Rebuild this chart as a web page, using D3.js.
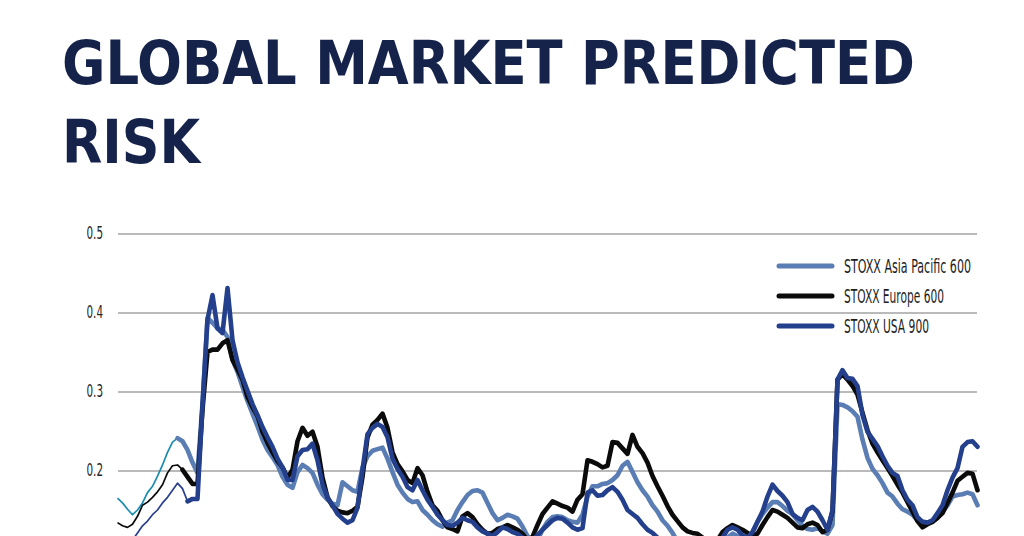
<!DOCTYPE html>
<html>
<head>
<meta charset="utf-8">
<script src="https://cdn.jsdelivr.net/npm/d3@7"></script>
<style>
  html, body { margin: 0; padding: 0; background: #fff; }
  svg { display: block; }
</style>
</head>
<body>
<svg id="chart" width="1024" height="536"></svg>
<script>
var width = 1024;
var height = 536;

// predicted risk, one reading roughly every five weeks (2007 -> 2022)
var asiaPacific = [
  .165,.159,.151,.144,.150,.159,.172,.180,.193,.207,.223,.236,.241,.237,.226,.210,.197,.285,.393,.387,
  .380,.378,.369,.340,.325,.306,.288,.272,.256,.239,.226,.217,.207,.192,.182,.178,.198,.207,.203,.197,
  .182,.170,.163,.158,.156,.185,.180,.175,.173,.204,.218,.225,.227,.229,.215,.198,.182,.172,.164,.160,
  .161,.150,.144,.137,.132,.129,.134,.137,.150,.160,.169,.174,.175,.172,.159,.146,.137,.140,.144,.142,
  .139,.129,.117,.110,.112,.125,.135,.141,.142,.141,.137,.135,.134,.144,.167,.180,.180,.183,.184,.188,
  .194,.206,.211,.198,.185,.175,.167,.156,.148,.137,.130,.121,.110,.102,.096,.092,.089,.089,.092,.093,
  .097,.104,.115,.120,.117,.112,.110,.122,.135,.145,.153,.160,.160,.155,.149,.145,.137,.130,.126,.125,
  .127,.123,.120,.131,.284,.283,.280,.275,.268,.239,.216,.202,.194,.184,.172,.167,.158,.151,.148,.144,
  .137,.135,.134,.136,.140,.148,.156,.167,.169,.170,.172,.170,.156
];
var europe = [
  .134,.130,.128,.132,.142,.156,.160,.166,.173,.182,.197,.206,.207,.201,.192,.183,.183,.277,.350,.353,
  .353,.361,.365,.340,.328,.315,.293,.280,.269,.249,.235,.223,.212,.204,.191,.201,.237,.254,.244,.249,
  .230,.191,.166,.155,.149,.147,.146,.149,.154,.192,.242,.258,.264,.272,.254,.223,.208,.199,.188,.184,
  .203,.194,.173,.156,.149,.137,.128,.126,.123,.142,.146,.141,.132,.125,.120,.121,.126,.128,.131,.128,
  .125,.120,.112,.116,.131,.145,.153,.161,.158,.155,.153,.148,.163,.170,.213,.211,.208,.204,.206,.236,
  .235,.228,.221,.245,.230,.222,.210,.193,.180,.168,.155,.144,.136,.128,.123,.121,.120,.115,.110,.106,
  .112,.122,.127,.131,.128,.125,.121,.117,.120,.131,.141,.150,.148,.144,.140,.134,.128,.127,.132,.134,
  .131,.122,.125,.148,.315,.322,.315,.307,.296,.273,.251,.234,.223,.213,.203,.193,.182,.172,.160,.148,
  .136,.128,.132,.135,.140,.146,.159,.172,.187,.192,.197,.196,.175
];
var usa = [
  .099,.102,.106,.112,.121,.130,.136,.144,.150,.159,.166,.175,.184,.177,.161,.164,.164,.283,.391,.422,
  .380,.374,.431,.365,.337,.318,.301,.284,.270,.255,.242,.230,.215,.204,.188,.188,.218,.226,.227,.234,
  .213,.182,.166,.156,.145,.139,.134,.137,.153,.201,.246,.254,.259,.255,.242,.215,.202,.192,.179,.175,
  .188,.175,.163,.154,.144,.137,.131,.130,.134,.140,.137,.135,.128,.123,.120,.117,.122,.128,.126,.122,
  .120,.115,.110,.112,.118,.125,.131,.137,.140,.139,.134,.128,.125,.127,.172,.175,.168,.169,.175,.179,
  .173,.163,.150,.145,.140,.132,.125,.121,.115,.110,.104,.099,.097,.093,.091,.089,.089,.092,.096,.099,
  .106,.115,.125,.128,.125,.118,.115,.122,.135,.148,.167,.182,.174,.168,.160,.145,.140,.137,.150,.154,
  .148,.137,.125,.150,.315,.327,.317,.316,.307,.270,.249,.240,.231,.218,.206,.197,.193,.175,.163,.156,
  .141,.135,.134,.137,.146,.156,.175,.191,.203,.230,.236,.237,.230
];

var seriesNames = ["STOXX Asia Pacific 600", "STOXX Europe 600", "STOXX USA 900"];
var yTicks = [0.2, 0.3, 0.4, 0.5];

var series = [
  {name: seriesNames[0], values: asiaPacific, color: "#5a7db4", early: "#1b8db0", thinTo: 12, legendLen: 127},
  {name: seriesNames[1], values: europe, color: "#0b0b0b", early: "#0b0b0b", thinTo: 13, legendLen: 100},
  {name: seriesNames[2], values: usa, color: "#24408c", early: "#2a3f8f", thinTo: 14, legendLen: 85}
];

var svg = d3.select("#chart");

// title
var title = svg.append("g")
  .attr("fill", "#15224a")
  .style("font-family", "'DejaVu Sans Condensed', 'DejaVu Sans', sans-serif")
  .style("font-weight", "bold")
  .style("font-size", "60px");
title.append("text").attr("x", 62).attr("y", 84)
  .attr("textLength", 853).attr("lengthAdjust", "spacingAndGlyphs")
  .text("GLOBAL MARKET PREDICTED");
title.append("text").attr("x", 62).attr("y", 163)
  .attr("textLength", 138).attr("lengthAdjust", "spacingAndGlyphs")
  .text("RISK");

var x = d3.scaleLinear()
  .domain([0, asiaPacific.length - 1])
  .range([117.5, 977.5]);

var y = d3.scaleLinear()
  .domain([0.1, 0.5])
  .range([549.5, 233.5]);

var yAxis = svg.append("g")
  .attr("transform", "translate(118,0)")
  .call(d3.axisLeft(y)
    .tickValues(yTicks)
    .tickSize(-(977 - 118))
    .tickPadding(15)
    .tickFormat(d3.format(".1f")));

yAxis.select(".domain").remove();
yAxis.selectAll(".tick line")
  .attr("stroke", "#a3a3a3")
  .attr("stroke-width", 1.5);
yAxis.selectAll(".tick text")
  .attr("fill", "#262626")
  .attr("font-size", null)
  .attr("textLength", 16.5)
  .attr("lengthAdjust", "spacingAndGlyphs")
  .style("font-family", "'Liberation Sans Narrow', 'DejaVu Sans Condensed', sans-serif")
  .style("font-size", "17px");

var line = d3.line()
  .x(function(d) { return x(d.i); })
  .y(function(d) { return y(d.v); })
  .curve(d3.curveLinear);

var lines = svg.append("g");

series.forEach(function(s) {
  var pts = s.values.map(function(v, i) { return {i: i, v: v}; });
  // early readings are drawn with a fine stroke
  lines.append("path")
    .datum(pts.slice(0, s.thinTo + 1))
    .attr("fill", "none")
    .attr("stroke", s.early)
    .attr("stroke-width", 1.7)
    .attr("stroke-linejoin", "round")
    .attr("d", line);
  lines.append("path")
    .datum(pts.slice(s.thinTo))
    .attr("fill", "none")
    .attr("stroke", s.color)
    .attr("stroke-width", 4.6)
    .attr("stroke-linejoin", "round")
    .attr("stroke-linecap", "round")
    .attr("d", line);
});

// legend
var legend = svg.append("g")
  .selectAll("g")
  .data(series)
  .enter().append("g")
    .attr("transform", function(d, i) { return "translate(779," + (266 + i * 30) + ")"; });

legend.append("line")
  .attr("x1", 0).attr("x2", 53)
  .attr("stroke", function(d) { return d.color; })
  .attr("stroke-width", 5)
  .attr("stroke-linecap", "round");

legend.append("text")
  .attr("x", 65)
  .attr("y", 7)
  .attr("fill", "#1e1e1e")
  .attr("textLength", function(d) { return d.legendLen; })
  .attr("lengthAdjust", "spacingAndGlyphs")
  .style("font-family", "'Liberation Sans Narrow', 'DejaVu Sans Condensed', sans-serif")
  .style("font-size", "19px")
  .text(function(d) { return d.name; });
</script>
</body>
</html>
